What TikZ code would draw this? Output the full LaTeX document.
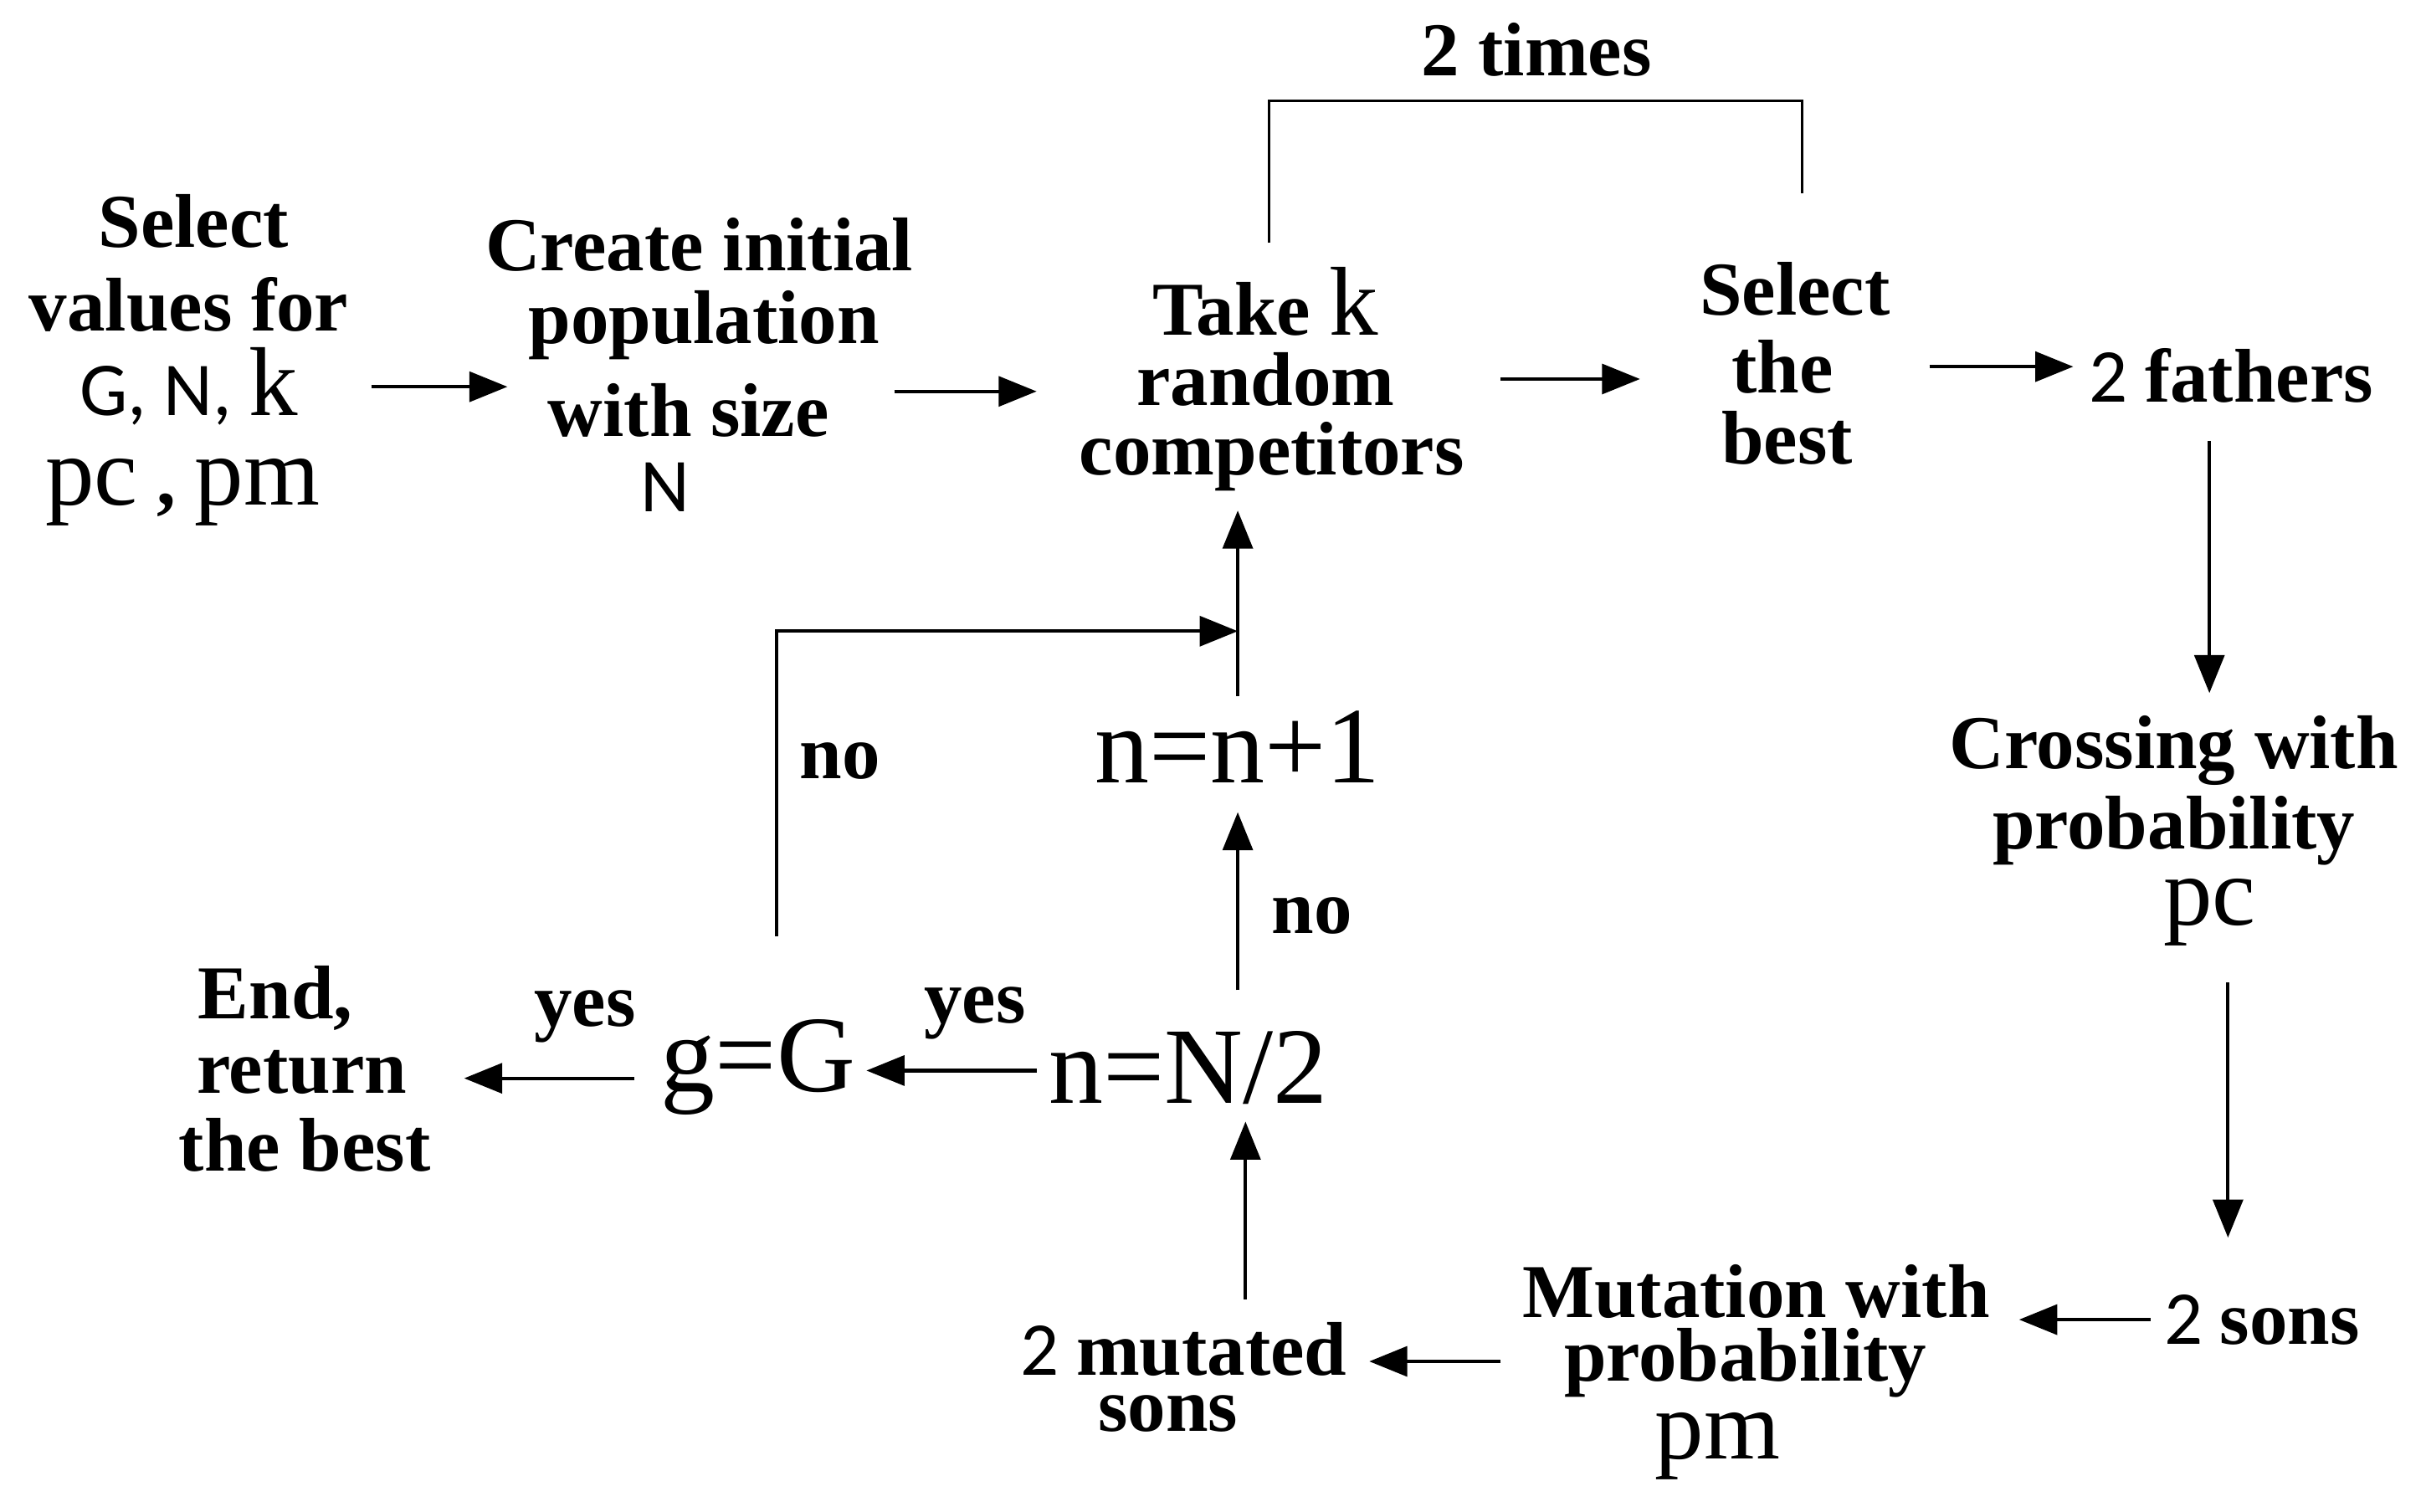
\documentclass[tikz,border=0pt]{standalone}
\usepackage{fontspec}
\setmainfont{Liberation Serif}
\newfontfamily\carl{Carlito}
\usetikzlibrary{arrows.meta}
\tikzset{
 lbl/.style={font=\fontsize{28}{30}\selectfont\bfseries, align=center, inner sep=0pt},
 big/.style={font=\fontsize{40}{42}\selectfont, inner sep=0pt},
 arr/.style={line width=1.3pt, -{Triangle[length=14pt,width=11pt]}},
 ln/.style={line width=0.9pt}
}
\newcommand{\bk}{{\fontsize{36}{36}\selectfont\mdseries k}}
\newcommand{\pcx}{{\fontsize{36}{36}\selectfont\mdseries pc}}
\newcommand{\pmx}{{\fontsize{36}{36}\selectfont\mdseries pm}}
\begin{document}
\begin{tikzpicture}[x=0.02cm,y=-0.02cm]
\useasboundingbox (0,0) rectangle (1568,977);
\node[lbl] (sel) at (125,143) {Select};
\node[lbl] (val) at (122,197) {values for};
\node[lbl] (gnk) at (122,250) {\carl\mdseries G, N, \rmfamily\bk};
\node[lbl] (pcpm) at (118,318) {\pcx\ , \pmx};
\node[lbl] (cr1) at (452,158) {Create initial};
\node[lbl] (cr2) at (455,210) {population};
\node[lbl] (cr3) at (445,265) {with size};
\node[lbl] (cr4) at (430,315) {\carl\mdseries N};
\node[lbl] (tk1) at (818,195) {Take \bk};
\node[lbl] (tk2) at (818,245) {random};
\node[lbl] (tk3) at (822,295) {competitors};
\node[lbl] (sb1) at (1160,187) {Select};
\node[lbl] (sb2) at (1152,237) {the};
\node[lbl] (sb3) at (1155,283) {best};
\node[lbl] (two) at (993,32) {2 times};
\node[lbl] (fa) at (1442,243) {\carl\mdseries 2 \rmfamily\bfseries fathers};
\node[lbl] (cw1) at (1405,485) {Crossing with};
\node[lbl] (cw2) at (1405,537) {probability};
\node[lbl] (cw3) at (1428,590) {\pcx};
\node[lbl] (so) at (1462,853) {\carl\mdseries 2 \rmfamily\bfseries sons};
\node[lbl] (mu1) at (1135,835) {Mutation with};
\node[lbl] (mu2) at (1128,881) {probability};
\node[lbl] (mu3) at (1110,935) {\pmx};
\node[lbl] (ms1) at (765,872) {\carl\mdseries 2 \rmfamily\bfseries mutated};
\node[lbl] (ms2) at (755,914) {sons};
\node[big] (nN) at (768,690) {n=N/2};
\node[big] (gG) at (490,690) {g=G};
\node[big] (nn) at (800,483) {n=n+1};
\node[lbl] (e1) at (178,645) {End,};
\node[lbl] (e2) at (195,693) {return};
\node[lbl] (e3) at (197,740) {the best};
\node[lbl] (y1) at (630,655) {yes};
\node[lbl] (y2) at (378,657) {yes};
\node[lbl] (n1) at (848,592) {no};
\node[lbl] (n2) at (543,492) {no};
\coordinate (a1) at (240,250); \coordinate (b1) at (328,250);
\draw[arr] (a1) -- (b1);
\coordinate (a2) at (578,253); \coordinate (b2) at (670,253);
\draw[arr] (a2) -- (b2);
\coordinate (a3) at (970,245); \coordinate (b3) at (1060,245);
\draw[arr] (a3) -- (b3);
\coordinate (a4) at (1247,237); \coordinate (b4) at (1340,237);
\draw[arr] (a4) -- (b4);
\coordinate (t1) at (820,157); \coordinate (t2) at (1165,125);
\draw[ln] (t1) -- (820,65) -- (1165,65) -- (t2);
\coordinate (a5) at (1428,285); \coordinate (b5) at (1428,448);
\draw[arr] (a5) -- (b5);
\coordinate (a6) at (1440,635); \coordinate (b6) at (1440,800);
\draw[arr] (a6) -- (b6);
\coordinate (a7) at (1390,853); \coordinate (b7) at (1305,853);
\draw[arr] (a7) -- (b7);
\coordinate (a8) at (970,880); \coordinate (b8) at (885,880);
\draw[arr] (a8) -- (b8);
\coordinate (a9) at (805,840); \coordinate (b9) at (805,725);
\draw[arr] (a9) -- (b9);
\coordinate (a10) at (670,692); \coordinate (b10) at (560,692);
\draw[arr] (a10) -- (b10);
\coordinate (a11) at (410,697); \coordinate (b11) at (300,697);
\draw[arr] (a11) -- (b11);
\coordinate (a12) at (800,640); \coordinate (b12) at (800,525);
\draw[arr] (a12) -- (b12);
\coordinate (a13) at (800,450); \coordinate (b13) at (800,330);
\draw[arr] (a13) -- (b13);
\coordinate (a14) at (502,605); \coordinate (b14) at (800,408);
\draw[arr] (a14) -- (502,408) -- (b14);
\end{tikzpicture}
\end{document}
